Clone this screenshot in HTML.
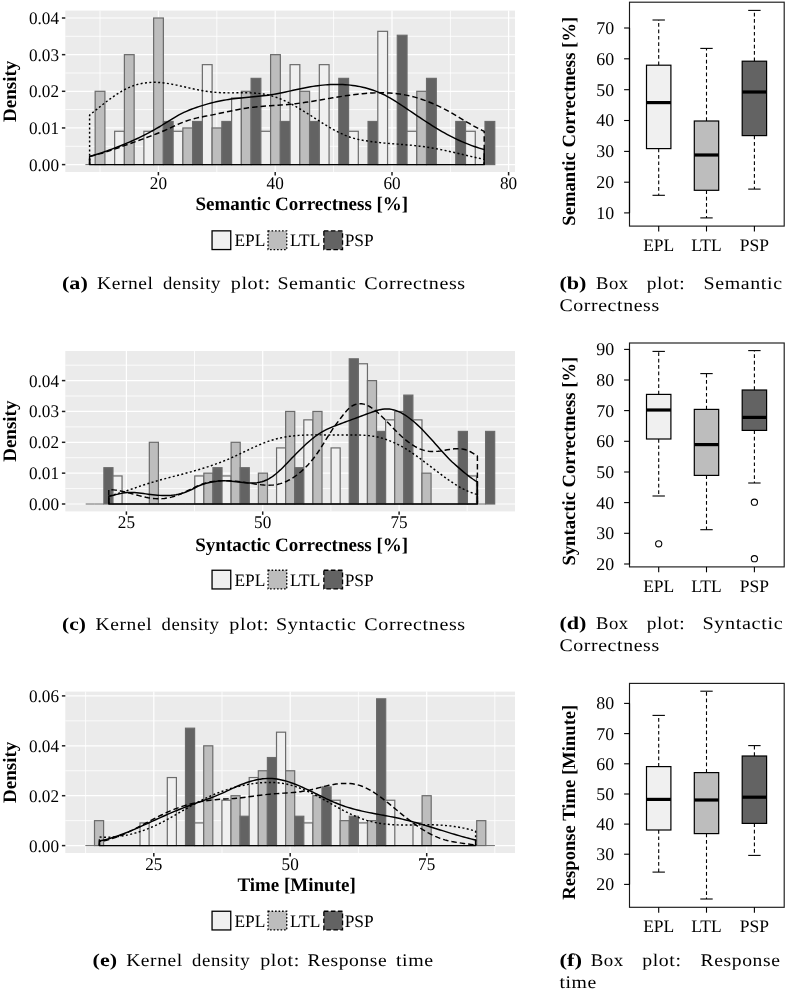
<!DOCTYPE html>
<html><head><meta charset="utf-8"><title>Figure</title>
<style>html,body{margin:0;padding:0;background:#fff}svg{display:block}</style></head>
<body>
<svg width="785" height="993" viewBox="0 0 785 993" text-rendering="geometricPrecision" font-family='"Liberation Serif", "DejaVu Serif", serif' fill="#000">
<rect width="785" height="993" fill="#fff"/>
<rect x="65.3" y="10.6" width="449.70" height="161.40" fill="#EBEBEB"/>
<line x1="65.3" x2="515" y1="146.30" y2="146.30" stroke="#fff" stroke-width="0.8"/>
<line x1="65.3" x2="515" y1="109.60" y2="109.60" stroke="#fff" stroke-width="0.8"/>
<line x1="65.3" x2="515" y1="73.00" y2="73.00" stroke="#fff" stroke-width="0.8"/>
<line x1="65.3" x2="515" y1="36.30" y2="36.30" stroke="#fff" stroke-width="0.8"/>
<line y1="10.6" y2="172" x1="100.00" x2="100.00" stroke="#fff" stroke-width="0.8"/>
<line y1="10.6" y2="172" x1="216.80" x2="216.80" stroke="#fff" stroke-width="0.8"/>
<line y1="10.6" y2="172" x1="333.60" x2="333.60" stroke="#fff" stroke-width="0.8"/>
<line y1="10.6" y2="172" x1="450.40" x2="450.40" stroke="#fff" stroke-width="0.8"/>
<line x1="65.3" x2="515" y1="164.60" y2="164.60" stroke="#fff" stroke-width="1.2"/>
<line x1="65.3" x2="515" y1="127.95" y2="127.95" stroke="#fff" stroke-width="1.2"/>
<line x1="65.3" x2="515" y1="91.30" y2="91.30" stroke="#fff" stroke-width="1.2"/>
<line x1="65.3" x2="515" y1="54.65" y2="54.65" stroke="#fff" stroke-width="1.2"/>
<line x1="65.3" x2="515" y1="18.00" y2="18.00" stroke="#fff" stroke-width="1.2"/>
<line y1="10.6" y2="172" x1="158.40" x2="158.40" stroke="#fff" stroke-width="1.2"/>
<line y1="10.6" y2="172" x1="275.20" x2="275.20" stroke="#fff" stroke-width="1.2"/>
<line y1="10.6" y2="172" x1="392.00" x2="392.00" stroke="#fff" stroke-width="1.2"/>
<line y1="10.6" y2="172" x1="508.60" x2="508.60" stroke="#fff" stroke-width="1.2"/>
<line x1="85.40" x2="95.15" y1="164.60" y2="164.60" stroke="#6B6B6B" stroke-width="1"/>
<rect x="95.15" y="91.30" width="9.75" height="73.30" fill="#BDBDBD" stroke="#6B6B6B" stroke-width="1.2"/>
<line x1="104.89" x2="114.64" y1="164.60" y2="164.60" stroke="#6B6B6B" stroke-width="1"/>
<rect x="114.64" y="131.28" width="9.75" height="33.32" fill="#F0F0F0" stroke="#6B6B6B" stroke-width="1.2"/>
<rect x="124.39" y="54.65" width="9.75" height="109.95" fill="#BDBDBD" stroke="#6B6B6B" stroke-width="1.2"/>
<line x1="134.13" x2="143.88" y1="164.60" y2="164.60" stroke="#6B6B6B" stroke-width="1"/>
<rect x="143.88" y="131.28" width="9.75" height="33.32" fill="#F0F0F0" stroke="#6B6B6B" stroke-width="1.2"/>
<rect x="153.63" y="18.00" width="9.75" height="146.60" fill="#BDBDBD" stroke="#6B6B6B" stroke-width="1.2"/>
<rect x="163.37" y="121.48" width="9.75" height="43.12" fill="#636363" stroke="#6B6B6B" stroke-width="1.2"/>
<rect x="173.12" y="131.28" width="9.75" height="33.32" fill="#F0F0F0" stroke="#6B6B6B" stroke-width="1.2"/>
<rect x="182.87" y="127.95" width="9.75" height="36.65" fill="#BDBDBD" stroke="#6B6B6B" stroke-width="1.2"/>
<rect x="192.61" y="121.48" width="9.75" height="43.12" fill="#636363" stroke="#6B6B6B" stroke-width="1.2"/>
<rect x="202.36" y="64.65" width="9.75" height="99.95" fill="#F0F0F0" stroke="#6B6B6B" stroke-width="1.2"/>
<rect x="212.11" y="127.95" width="9.75" height="36.65" fill="#BDBDBD" stroke="#6B6B6B" stroke-width="1.2"/>
<rect x="221.85" y="121.48" width="9.75" height="43.12" fill="#636363" stroke="#6B6B6B" stroke-width="1.2"/>
<rect x="231.60" y="97.96" width="9.75" height="66.64" fill="#F0F0F0" stroke="#6B6B6B" stroke-width="1.2"/>
<rect x="241.35" y="91.30" width="9.75" height="73.30" fill="#BDBDBD" stroke="#6B6B6B" stroke-width="1.2"/>
<rect x="251.09" y="78.36" width="9.75" height="86.24" fill="#636363" stroke="#6B6B6B" stroke-width="1.2"/>
<rect x="260.84" y="131.28" width="9.75" height="33.32" fill="#F0F0F0" stroke="#6B6B6B" stroke-width="1.2"/>
<rect x="270.59" y="54.65" width="9.75" height="109.95" fill="#BDBDBD" stroke="#6B6B6B" stroke-width="1.2"/>
<rect x="280.33" y="121.48" width="9.75" height="43.12" fill="#636363" stroke="#6B6B6B" stroke-width="1.2"/>
<rect x="290.08" y="64.65" width="9.75" height="99.95" fill="#F0F0F0" stroke="#6B6B6B" stroke-width="1.2"/>
<rect x="299.83" y="91.30" width="9.75" height="73.30" fill="#BDBDBD" stroke="#6B6B6B" stroke-width="1.2"/>
<rect x="309.57" y="121.48" width="9.75" height="43.12" fill="#636363" stroke="#6B6B6B" stroke-width="1.2"/>
<rect x="319.32" y="64.65" width="9.75" height="99.95" fill="#F0F0F0" stroke="#6B6B6B" stroke-width="1.2"/>
<line x1="329.07" x2="338.81" y1="164.60" y2="164.60" stroke="#6B6B6B" stroke-width="1"/>
<rect x="338.81" y="78.36" width="9.75" height="86.24" fill="#636363" stroke="#6B6B6B" stroke-width="1.2"/>
<rect x="348.56" y="131.28" width="9.75" height="33.32" fill="#F0F0F0" stroke="#6B6B6B" stroke-width="1.2"/>
<line x1="358.31" x2="368.05" y1="164.60" y2="164.60" stroke="#6B6B6B" stroke-width="1"/>
<rect x="368.05" y="121.48" width="9.75" height="43.12" fill="#636363" stroke="#6B6B6B" stroke-width="1.2"/>
<rect x="377.80" y="31.33" width="9.75" height="133.27" fill="#F0F0F0" stroke="#6B6B6B" stroke-width="1.2"/>
<line x1="387.55" x2="397.29" y1="164.60" y2="164.60" stroke="#6B6B6B" stroke-width="1"/>
<rect x="397.29" y="35.25" width="9.75" height="129.35" fill="#636363" stroke="#6B6B6B" stroke-width="1.2"/>
<rect x="407.04" y="131.28" width="9.75" height="33.32" fill="#F0F0F0" stroke="#6B6B6B" stroke-width="1.2"/>
<rect x="416.79" y="91.30" width="9.75" height="73.30" fill="#BDBDBD" stroke="#6B6B6B" stroke-width="1.2"/>
<rect x="426.53" y="78.36" width="9.75" height="86.24" fill="#636363" stroke="#6B6B6B" stroke-width="1.2"/>
<line x1="436.28" x2="446.03" y1="164.60" y2="164.60" stroke="#6B6B6B" stroke-width="1"/>
<line x1="446.03" x2="455.77" y1="164.60" y2="164.60" stroke="#6B6B6B" stroke-width="1"/>
<rect x="455.77" y="121.48" width="9.75" height="43.12" fill="#636363" stroke="#6B6B6B" stroke-width="1.2"/>
<rect x="465.52" y="131.28" width="9.75" height="33.32" fill="#F0F0F0" stroke="#6B6B6B" stroke-width="1.2"/>
<line x1="475.27" x2="485.01" y1="164.60" y2="164.60" stroke="#6B6B6B" stroke-width="1"/>
<rect x="485.01" y="121.48" width="9.75" height="43.12" fill="#636363" stroke="#6B6B6B" stroke-width="1.2"/>
<path d="M89.60,164.60 L89.60,156.50 L92.08,155.75 L94.56,154.99 L97.05,154.21 L99.53,153.41 L102.01,152.58 L104.49,151.74 L106.97,150.88 L109.45,149.99 L111.94,149.09 L114.42,148.16 L116.90,147.21 L119.38,146.23 L121.86,145.23 L124.34,144.21 L126.83,143.17 L129.31,142.09 L131.79,141.00 L134.27,139.88 L136.75,138.73 L139.24,137.55 L141.72,136.35 L144.20,135.12 L146.68,133.86 L149.16,132.56 L151.64,131.23 L154.13,129.86 L156.61,128.45 L159.09,127.00 L161.57,125.50 L164.05,123.96 L166.53,122.41 L169.02,120.85 L171.50,119.31 L173.98,117.80 L176.46,116.35 L178.94,114.96 L181.43,113.66 L183.91,112.44 L186.39,111.31 L188.87,110.25 L191.35,109.26 L193.83,108.33 L196.32,107.45 L198.80,106.62 L201.28,105.83 L203.76,105.07 L206.24,104.35 L208.72,103.66 L211.21,103.01 L213.69,102.39 L216.17,101.81 L218.65,101.27 L221.13,100.76 L223.62,100.29 L226.10,99.86 L228.58,99.46 L231.06,99.09 L233.54,98.76 L236.02,98.46 L238.51,98.19 L240.99,97.93 L243.47,97.69 L245.95,97.47 L248.43,97.25 L250.91,97.03 L253.40,96.80 L255.88,96.57 L258.36,96.33 L260.84,96.08 L263.32,95.80 L265.81,95.49 L268.29,95.16 L270.77,94.78 L273.25,94.38 L275.73,93.94 L278.21,93.47 L280.70,92.98 L283.18,92.47 L285.66,91.94 L288.14,91.40 L290.62,90.86 L293.10,90.31 L295.59,89.77 L298.07,89.23 L300.55,88.70 L303.03,88.19 L305.51,87.70 L307.99,87.23 L310.48,86.80 L312.96,86.39 L315.44,86.01 L317.92,85.67 L320.40,85.37 L322.89,85.11 L325.37,84.88 L327.85,84.70 L330.33,84.55 L332.81,84.46 L335.29,84.40 L337.78,84.40 L340.26,84.44 L342.74,84.53 L345.22,84.67 L347.70,84.86 L350.18,85.11 L352.67,85.41 L355.15,85.77 L357.63,86.19 L360.11,86.66 L362.59,87.20 L365.08,87.80 L367.56,88.47 L370.04,89.20 L372.52,90.00 L375.00,90.88 L377.48,91.84 L379.97,92.88 L382.45,94.01 L384.93,95.22 L387.41,96.53 L389.89,97.92 L392.37,99.39 L394.86,100.91 L397.34,102.49 L399.82,104.10 L402.30,105.75 L404.78,107.41 L407.27,109.09 L409.75,110.76 L412.23,112.44 L414.71,114.12 L417.19,115.79 L419.67,117.46 L422.16,119.11 L424.64,120.75 L427.12,122.37 L429.60,123.97 L432.08,125.54 L434.56,127.09 L437.05,128.61 L439.53,130.09 L442.01,131.54 L444.49,132.95 L446.97,134.32 L449.46,135.64 L451.94,136.92 L454.42,138.16 L456.90,139.35 L459.38,140.50 L461.86,141.61 L464.35,142.67 L466.83,143.68 L469.31,144.66 L471.79,145.58 L474.27,146.47 L476.75,147.31 L479.24,148.10 L481.72,148.85 L484.20,149.56 L484.20,164.60 Z" fill="none" stroke="#000" stroke-width="1.45" stroke-linejoin="round"/>
<path d="M89.60,164.60 L89.60,115.14 L92.08,113.13 L94.56,111.11 L97.05,109.09 L99.53,107.09 L102.01,105.11 L104.49,103.16 L106.97,101.26 L109.45,99.40 L111.94,97.59 L114.42,95.86 L116.90,94.19 L119.38,92.62 L121.86,91.13 L124.34,89.75 L126.83,88.48 L129.31,87.33 L131.79,86.31 L134.27,85.42 L136.75,84.65 L139.24,84.00 L141.72,83.46 L144.20,83.03 L146.68,82.71 L149.16,82.49 L151.64,82.36 L154.13,82.32 L156.61,82.36 L159.09,82.49 L161.57,82.69 L164.05,82.96 L166.53,83.29 L169.02,83.68 L171.50,84.12 L173.98,84.59 L176.46,85.10 L178.94,85.64 L181.43,86.19 L183.91,86.76 L186.39,87.33 L188.87,87.90 L191.35,88.46 L193.83,89.00 L196.32,89.52 L198.80,90.01 L201.28,90.48 L203.76,90.91 L206.24,91.30 L208.72,91.65 L211.21,91.95 L213.69,92.20 L216.17,92.40 L218.65,92.56 L221.13,92.68 L223.62,92.77 L226.10,92.83 L228.58,92.86 L231.06,92.86 L233.54,92.85 L236.02,92.82 L238.51,92.80 L240.99,92.78 L243.47,92.77 L245.95,92.78 L248.43,92.81 L250.91,92.88 L253.40,93.00 L255.88,93.16 L258.36,93.38 L260.84,93.67 L263.32,94.02 L265.81,94.46 L268.29,94.99 L270.77,95.61 L273.25,96.33 L275.73,97.14 L278.21,98.04 L280.70,99.03 L283.18,100.09 L285.66,101.22 L288.14,102.43 L290.62,103.69 L293.10,105.01 L295.59,106.38 L298.07,107.80 L300.55,109.25 L303.03,110.75 L305.51,112.27 L307.99,113.82 L310.48,115.39 L312.96,116.97 L315.44,118.56 L317.92,120.15 L320.40,121.72 L322.89,123.28 L325.37,124.82 L327.85,126.33 L330.33,127.79 L332.81,129.21 L335.29,130.58 L337.78,131.88 L340.26,133.11 L342.74,134.27 L345.22,135.34 L347.70,136.32 L350.18,137.20 L352.67,137.97 L355.15,138.65 L357.63,139.25 L360.11,139.78 L362.59,140.25 L365.08,140.68 L367.56,141.07 L370.04,141.43 L372.52,141.77 L375.00,142.08 L377.48,142.36 L379.97,142.63 L382.45,142.87 L384.93,143.10 L387.41,143.32 L389.89,143.53 L392.37,143.73 L394.86,143.93 L397.34,144.12 L399.82,144.31 L402.30,144.51 L404.78,144.71 L407.27,144.92 L409.75,145.14 L412.23,145.37 L414.71,145.62 L417.19,145.88 L419.67,146.17 L422.16,146.47 L424.64,146.81 L427.12,147.17 L429.60,147.56 L432.08,147.97 L434.56,148.41 L437.05,148.87 L439.53,149.35 L442.01,149.84 L444.49,150.36 L446.97,150.88 L449.46,151.43 L451.94,151.98 L454.42,152.54 L456.90,153.11 L459.38,153.69 L461.86,154.27 L464.35,154.85 L466.83,155.43 L469.31,156.02 L471.79,156.60 L474.27,157.17 L476.75,157.74 L479.24,158.31 L481.72,158.86 L484.20,159.40 L484.20,164.60" fill="none" stroke="#000" stroke-width="1.45" stroke-linejoin="round" stroke-dasharray="2 2.4"/>
<path d="M89.60,164.60 L89.60,156.44 L92.08,155.86 L94.56,155.24 L97.05,154.59 L99.53,153.90 L102.01,153.18 L104.49,152.42 L106.97,151.64 L109.45,150.84 L111.94,150.02 L114.42,149.18 L116.90,148.32 L119.38,147.45 L121.86,146.56 L124.34,145.67 L126.83,144.78 L129.31,143.88 L131.79,142.98 L134.27,142.09 L136.75,141.19 L139.24,140.28 L141.72,139.38 L144.20,138.47 L146.68,137.55 L149.16,136.62 L151.64,135.69 L154.13,134.74 L156.61,133.78 L159.09,132.79 L161.57,131.78 L164.05,130.74 L166.53,129.67 L169.02,128.55 L171.50,127.40 L173.98,126.22 L176.46,125.05 L178.94,123.91 L181.43,122.85 L183.91,121.87 L186.39,120.97 L188.87,120.16 L191.35,119.42 L193.83,118.75 L196.32,118.14 L198.80,117.58 L201.28,117.06 L203.76,116.56 L206.24,116.08 L208.72,115.59 L211.21,115.10 L213.69,114.60 L216.17,114.08 L218.65,113.55 L221.13,113.03 L223.62,112.50 L226.10,111.97 L228.58,111.44 L231.06,110.93 L233.54,110.43 L236.02,109.94 L238.51,109.47 L240.99,109.02 L243.47,108.59 L245.95,108.19 L248.43,107.82 L250.91,107.49 L253.40,107.19 L255.88,106.92 L258.36,106.67 L260.84,106.45 L263.32,106.25 L265.81,106.06 L268.29,105.89 L270.77,105.72 L273.25,105.56 L275.73,105.40 L278.21,105.23 L280.70,105.06 L283.18,104.88 L285.66,104.68 L288.14,104.46 L290.62,104.22 L293.10,103.96 L295.59,103.67 L298.07,103.37 L300.55,103.04 L303.03,102.70 L305.51,102.33 L307.99,101.96 L310.48,101.57 L312.96,101.18 L315.44,100.77 L317.92,100.36 L320.40,99.94 L322.89,99.51 L325.37,99.09 L327.85,98.66 L330.33,98.24 L332.81,97.82 L335.29,97.40 L337.78,97.00 L340.26,96.60 L342.74,96.21 L345.22,95.83 L347.70,95.46 L350.18,95.11 L352.67,94.78 L355.15,94.47 L357.63,94.18 L360.11,93.91 L362.59,93.66 L365.08,93.44 L367.56,93.25 L370.04,93.09 L372.52,92.96 L375.00,92.86 L377.48,92.80 L379.97,92.77 L382.45,92.78 L384.93,92.83 L387.41,92.92 L389.89,93.06 L392.37,93.24 L394.86,93.47 L397.34,93.74 L399.82,94.07 L402.30,94.45 L404.78,94.88 L407.27,95.37 L409.75,95.91 L412.23,96.51 L414.71,97.16 L417.19,97.87 L419.67,98.63 L422.16,99.45 L424.64,100.31 L427.12,101.23 L429.60,102.21 L432.08,103.23 L434.56,104.31 L437.05,105.43 L439.53,106.61 L442.01,107.84 L444.49,109.12 L446.97,110.45 L449.46,111.82 L451.94,113.23 L454.42,114.66 L456.90,116.12 L459.38,117.59 L461.86,119.07 L464.35,120.54 L466.83,122.01 L469.31,123.46 L471.79,124.88 L474.27,126.27 L476.75,127.63 L479.24,128.93 L481.72,130.19 L484.20,131.38 L484.20,164.60" fill="none" stroke="#000" stroke-width="1.45" stroke-linejoin="round" stroke-dasharray="5.5 3"/>
<line x1="61.90" x2="65.3" y1="164.60" y2="164.60" stroke="#1f1f1f" stroke-width="1.5"/>
<text transform="translate(59.00,170.60) scale(0.965,1)" font-size="17.8" text-anchor="end" fill="#000">0.00</text>
<line x1="61.90" x2="65.3" y1="127.95" y2="127.95" stroke="#1f1f1f" stroke-width="1.5"/>
<text transform="translate(59.00,133.95) scale(0.965,1)" font-size="17.8" text-anchor="end" fill="#000">0.01</text>
<line x1="61.90" x2="65.3" y1="91.30" y2="91.30" stroke="#1f1f1f" stroke-width="1.5"/>
<text transform="translate(59.00,97.30) scale(0.965,1)" font-size="17.8" text-anchor="end" fill="#000">0.02</text>
<line x1="61.90" x2="65.3" y1="54.65" y2="54.65" stroke="#1f1f1f" stroke-width="1.5"/>
<text transform="translate(59.00,60.65) scale(0.965,1)" font-size="17.8" text-anchor="end" fill="#000">0.03</text>
<line x1="61.90" x2="65.3" y1="18.00" y2="18.00" stroke="#1f1f1f" stroke-width="1.5"/>
<text transform="translate(59.00,24.00) scale(0.965,1)" font-size="17.8" text-anchor="end" fill="#000">0.04</text>
<line y1="172" y2="175.40" x1="158.40" x2="158.40" stroke="#1f1f1f" stroke-width="1.5"/>
<text transform="translate(158.40,188.90) scale(0.965,1)" font-size="17.8" text-anchor="middle" fill="#000">20</text>
<line y1="172" y2="175.40" x1="275.20" x2="275.20" stroke="#1f1f1f" stroke-width="1.5"/>
<text transform="translate(275.20,188.90) scale(0.965,1)" font-size="17.8" text-anchor="middle" fill="#000">40</text>
<line y1="172" y2="175.40" x1="392.00" x2="392.00" stroke="#1f1f1f" stroke-width="1.5"/>
<text transform="translate(392.00,188.90) scale(0.965,1)" font-size="17.8" text-anchor="middle" fill="#000">60</text>
<line y1="172" y2="175.40" x1="508.60" x2="508.60" stroke="#1f1f1f" stroke-width="1.5"/>
<text transform="translate(508.60,188.90) scale(0.965,1)" font-size="17.8" text-anchor="middle" fill="#000">80</text>
<text x="301.8" y="210.0" font-size="19.0" font-weight="bold" text-anchor="middle">Semantic Correctness [%]</text>
<text transform="translate(16.3,91.30) rotate(-90)" font-size="19.0" font-weight="bold" text-anchor="middle">Density</text>
<rect x="212.05" y="230.85" width="18.7" height="18.7" fill="#F0F0F0" stroke="#000" stroke-width="1.3"/>
<text x="234.40" y="246.40" font-size="17.4">EPL</text>
<rect x="268.05" y="230.85" width="18.7" height="18.7" fill="#BDBDBD" stroke="#000" stroke-width="1.3" stroke-dasharray="1.6 1.9"/>
<text x="290.00" y="246.40" font-size="17.4">LTL</text>
<rect x="323.85" y="230.85" width="18.7" height="18.7" fill="#636363" stroke="#000" stroke-width="1.3" stroke-dasharray="4.6 2.4"/>
<text x="344.70" y="246.40" font-size="17.4">PSP</text>
<text x="62" y="288.7" font-size="18" font-weight="bold" textLength="25.8" lengthAdjust="spacingAndGlyphs">(a)</text>
<text x="97" y="288.7" font-size="17.8" letter-spacing="0.55" textLength="56.65" lengthAdjust="spacingAndGlyphs">Kernel</text>
<text x="162.9" y="288.7" font-size="17.8" letter-spacing="0.55" textLength="58.05" lengthAdjust="spacingAndGlyphs">density</text>
<text x="230.7" y="288.7" font-size="17.8" letter-spacing="0.55" textLength="40.05" lengthAdjust="spacingAndGlyphs">plot:</text>
<text x="277.4" y="288.7" font-size="17.8" letter-spacing="0.55" textLength="79.05" lengthAdjust="spacingAndGlyphs">Semantic</text>
<text x="364.3" y="288.7" font-size="17.8" letter-spacing="0.55" textLength="101.45" lengthAdjust="spacingAndGlyphs">Correctness</text>
<rect x="65.3" y="351" width="449.70" height="160.40" fill="#EBEBEB"/>
<line x1="65.3" x2="515" y1="488.60" y2="488.60" stroke="#fff" stroke-width="0.8"/>
<line x1="65.3" x2="515" y1="457.70" y2="457.70" stroke="#fff" stroke-width="0.8"/>
<line x1="65.3" x2="515" y1="426.90" y2="426.90" stroke="#fff" stroke-width="0.8"/>
<line x1="65.3" x2="515" y1="396.00" y2="396.00" stroke="#fff" stroke-width="0.8"/>
<line x1="65.3" x2="515" y1="365.20" y2="365.20" stroke="#fff" stroke-width="0.8"/>
<line y1="351" y2="511.4" x1="194.50" x2="194.50" stroke="#fff" stroke-width="0.8"/>
<line y1="351" y2="511.4" x1="330.90" x2="330.90" stroke="#fff" stroke-width="0.8"/>
<line y1="351" y2="511.4" x1="467.20" x2="467.20" stroke="#fff" stroke-width="0.8"/>
<line x1="65.3" x2="515" y1="504.00" y2="504.00" stroke="#fff" stroke-width="1.2"/>
<line x1="65.3" x2="515" y1="473.15" y2="473.15" stroke="#fff" stroke-width="1.2"/>
<line x1="65.3" x2="515" y1="442.30" y2="442.30" stroke="#fff" stroke-width="1.2"/>
<line x1="65.3" x2="515" y1="411.45" y2="411.45" stroke="#fff" stroke-width="1.2"/>
<line x1="65.3" x2="515" y1="380.60" y2="380.60" stroke="#fff" stroke-width="1.2"/>
<line y1="351" y2="511.4" x1="126.40" x2="126.40" stroke="#fff" stroke-width="1.2"/>
<line y1="351" y2="511.4" x1="262.70" x2="262.70" stroke="#fff" stroke-width="1.2"/>
<line y1="351" y2="511.4" x1="399.10" x2="399.10" stroke="#fff" stroke-width="1.2"/>
<line x1="85.70" x2="94.79" y1="504.00" y2="504.00" stroke="#6B6B6B" stroke-width="1"/>
<line x1="94.79" x2="103.88" y1="504.00" y2="504.00" stroke="#6B6B6B" stroke-width="1"/>
<rect x="103.88" y="467.71" width="9.09" height="36.29" fill="#636363" stroke="#6B6B6B" stroke-width="1.2"/>
<rect x="112.97" y="475.95" width="9.09" height="28.05" fill="#F0F0F0" stroke="#6B6B6B" stroke-width="1.2"/>
<line x1="122.05" x2="131.14" y1="504.00" y2="504.00" stroke="#6B6B6B" stroke-width="1"/>
<line x1="131.14" x2="140.23" y1="504.00" y2="504.00" stroke="#6B6B6B" stroke-width="1"/>
<line x1="140.23" x2="149.32" y1="504.00" y2="504.00" stroke="#6B6B6B" stroke-width="1"/>
<rect x="149.32" y="442.30" width="9.09" height="61.70" fill="#BDBDBD" stroke="#6B6B6B" stroke-width="1.2"/>
<line x1="158.41" x2="167.50" y1="504.00" y2="504.00" stroke="#6B6B6B" stroke-width="1"/>
<line x1="167.50" x2="176.58" y1="504.00" y2="504.00" stroke="#6B6B6B" stroke-width="1"/>
<line x1="176.58" x2="185.67" y1="504.00" y2="504.00" stroke="#6B6B6B" stroke-width="1"/>
<line x1="185.67" x2="194.76" y1="504.00" y2="504.00" stroke="#6B6B6B" stroke-width="1"/>
<rect x="194.76" y="475.95" width="9.09" height="28.05" fill="#F0F0F0" stroke="#6B6B6B" stroke-width="1.2"/>
<rect x="203.85" y="473.15" width="9.09" height="30.85" fill="#BDBDBD" stroke="#6B6B6B" stroke-width="1.2"/>
<rect x="212.94" y="467.71" width="9.09" height="36.29" fill="#636363" stroke="#6B6B6B" stroke-width="1.2"/>
<rect x="222.02" y="475.95" width="9.09" height="28.05" fill="#F0F0F0" stroke="#6B6B6B" stroke-width="1.2"/>
<rect x="231.11" y="442.30" width="9.09" height="61.70" fill="#BDBDBD" stroke="#6B6B6B" stroke-width="1.2"/>
<rect x="240.20" y="467.71" width="9.09" height="36.29" fill="#636363" stroke="#6B6B6B" stroke-width="1.2"/>
<line x1="249.29" x2="258.38" y1="504.00" y2="504.00" stroke="#6B6B6B" stroke-width="1"/>
<rect x="258.38" y="473.15" width="9.09" height="30.85" fill="#BDBDBD" stroke="#6B6B6B" stroke-width="1.2"/>
<line x1="267.47" x2="276.56" y1="504.00" y2="504.00" stroke="#6B6B6B" stroke-width="1"/>
<rect x="276.56" y="447.91" width="9.09" height="56.09" fill="#F0F0F0" stroke="#6B6B6B" stroke-width="1.2"/>
<rect x="285.64" y="411.45" width="9.09" height="92.55" fill="#BDBDBD" stroke="#6B6B6B" stroke-width="1.2"/>
<rect x="294.73" y="467.71" width="9.09" height="36.29" fill="#636363" stroke="#6B6B6B" stroke-width="1.2"/>
<rect x="303.82" y="419.86" width="9.09" height="84.14" fill="#F0F0F0" stroke="#6B6B6B" stroke-width="1.2"/>
<rect x="312.91" y="411.45" width="9.09" height="92.55" fill="#BDBDBD" stroke="#6B6B6B" stroke-width="1.2"/>
<line x1="322.00" x2="331.08" y1="504.00" y2="504.00" stroke="#6B6B6B" stroke-width="1"/>
<rect x="331.08" y="447.91" width="9.09" height="56.09" fill="#F0F0F0" stroke="#6B6B6B" stroke-width="1.2"/>
<line x1="340.17" x2="349.26" y1="504.00" y2="504.00" stroke="#6B6B6B" stroke-width="1"/>
<rect x="349.26" y="358.82" width="9.09" height="145.18" fill="#636363" stroke="#6B6B6B" stroke-width="1.2"/>
<rect x="358.35" y="363.77" width="9.09" height="140.23" fill="#F0F0F0" stroke="#6B6B6B" stroke-width="1.2"/>
<rect x="367.44" y="380.60" width="9.09" height="123.40" fill="#BDBDBD" stroke="#6B6B6B" stroke-width="1.2"/>
<rect x="376.53" y="431.41" width="9.09" height="72.59" fill="#636363" stroke="#6B6B6B" stroke-width="1.2"/>
<rect x="385.62" y="419.86" width="9.09" height="84.14" fill="#F0F0F0" stroke="#6B6B6B" stroke-width="1.2"/>
<rect x="394.70" y="411.45" width="9.09" height="92.55" fill="#BDBDBD" stroke="#6B6B6B" stroke-width="1.2"/>
<rect x="403.79" y="395.12" width="9.09" height="108.88" fill="#636363" stroke="#6B6B6B" stroke-width="1.2"/>
<rect x="412.88" y="419.86" width="9.09" height="84.14" fill="#F0F0F0" stroke="#6B6B6B" stroke-width="1.2"/>
<rect x="421.97" y="473.15" width="9.09" height="30.85" fill="#BDBDBD" stroke="#6B6B6B" stroke-width="1.2"/>
<line x1="431.06" x2="440.14" y1="504.00" y2="504.00" stroke="#6B6B6B" stroke-width="1"/>
<line x1="440.14" x2="449.23" y1="504.00" y2="504.00" stroke="#6B6B6B" stroke-width="1"/>
<line x1="449.23" x2="458.32" y1="504.00" y2="504.00" stroke="#6B6B6B" stroke-width="1"/>
<rect x="458.32" y="431.41" width="9.09" height="72.59" fill="#636363" stroke="#6B6B6B" stroke-width="1.2"/>
<rect x="467.41" y="475.95" width="9.09" height="28.05" fill="#F0F0F0" stroke="#6B6B6B" stroke-width="1.2"/>
<line x1="476.50" x2="485.59" y1="504.00" y2="504.00" stroke="#6B6B6B" stroke-width="1"/>
<rect x="485.59" y="431.41" width="9.09" height="72.59" fill="#636363" stroke="#6B6B6B" stroke-width="1.2"/>
<path d="M108.80,504.00 L108.80,496.20 L111.12,495.75 L113.44,495.23 L115.75,494.67 L118.07,494.12 L120.39,493.59 L122.71,493.13 L125.03,492.77 L127.35,492.54 L129.66,492.43 L131.98,492.44 L134.30,492.55 L136.62,492.73 L138.94,492.97 L141.26,493.26 L143.57,493.57 L145.89,493.88 L148.21,494.19 L150.53,494.49 L152.85,494.76 L155.16,495.00 L157.48,495.20 L159.80,495.36 L162.12,495.47 L164.44,495.52 L166.76,495.51 L169.07,495.43 L171.39,495.27 L173.71,495.03 L176.03,494.69 L178.35,494.26 L180.67,493.72 L182.98,493.07 L185.30,492.30 L187.62,491.41 L189.94,490.39 L192.26,489.24 L194.57,488.02 L196.89,486.82 L199.21,485.71 L201.53,484.77 L203.85,483.99 L206.17,483.35 L208.48,482.80 L210.80,482.31 L213.12,481.85 L215.44,481.46 L217.76,481.15 L220.08,480.93 L222.39,480.82 L224.71,480.81 L227.03,480.88 L229.35,481.02 L231.67,481.23 L233.98,481.47 L236.30,481.73 L238.62,482.01 L240.94,482.29 L243.26,482.54 L245.58,482.76 L247.89,482.92 L250.21,483.01 L252.53,483.00 L254.85,482.89 L257.17,482.65 L259.49,482.26 L261.80,481.71 L264.12,480.97 L266.44,480.04 L268.76,478.88 L271.08,477.49 L273.39,475.87 L275.71,474.04 L278.03,472.05 L280.35,469.90 L282.67,467.65 L284.99,465.31 L287.30,462.91 L289.62,460.49 L291.94,458.07 L294.26,455.67 L296.58,453.30 L298.90,450.96 L301.21,448.68 L303.53,446.45 L305.85,444.29 L308.17,442.20 L310.49,440.21 L312.81,438.31 L315.12,436.52 L317.44,434.85 L319.76,433.31 L322.08,431.91 L324.40,430.62 L326.71,429.45 L329.03,428.37 L331.35,427.37 L333.67,426.42 L335.99,425.52 L338.31,424.64 L340.62,423.78 L342.94,422.91 L345.26,422.04 L347.58,421.18 L349.90,420.31 L352.22,419.44 L354.53,418.57 L356.85,417.71 L359.17,416.85 L361.49,415.98 L363.81,415.13 L366.12,414.27 L368.44,413.42 L370.76,412.58 L373.08,411.75 L375.40,410.97 L377.72,410.26 L380.03,409.67 L382.35,409.22 L384.67,408.94 L386.99,408.87 L389.31,409.01 L391.63,409.37 L393.94,409.93 L396.26,410.68 L398.58,411.61 L400.90,412.72 L403.22,414.00 L405.53,415.43 L407.85,417.01 L410.17,418.72 L412.49,420.57 L414.81,422.54 L417.13,424.62 L419.44,426.81 L421.76,429.09 L424.08,431.45 L426.40,433.89 L428.72,436.40 L431.04,438.96 L433.35,441.57 L435.67,444.20 L437.99,446.84 L440.31,449.46 L442.63,452.05 L444.94,454.58 L447.26,457.04 L449.58,459.40 L451.90,461.66 L454.22,463.81 L456.54,465.88 L458.85,467.90 L461.17,469.88 L463.49,471.82 L465.81,473.72 L468.13,475.56 L470.45,477.33 L472.76,479.00 L475.08,480.56 L477.40,482.01 L477.40,504.00 Z" fill="none" stroke="#000" stroke-width="1.45" stroke-linejoin="round"/>
<path d="M108.80,504.00 L108.80,496.10 L111.12,495.52 L113.44,494.91 L115.75,494.25 L118.07,493.56 L120.39,492.84 L122.71,492.10 L125.03,491.34 L127.35,490.56 L129.66,489.77 L131.98,488.97 L134.30,488.17 L136.62,487.37 L138.94,486.58 L141.26,485.79 L143.57,485.02 L145.89,484.26 L148.21,483.53 L150.53,482.81 L152.85,482.12 L155.16,481.44 L157.48,480.77 L159.80,480.12 L162.12,479.48 L164.44,478.85 L166.76,478.23 L169.07,477.62 L171.39,477.01 L173.71,476.40 L176.03,475.80 L178.35,475.20 L180.67,474.59 L182.98,473.98 L185.30,473.36 L187.62,472.74 L189.94,472.11 L192.26,471.47 L194.57,470.82 L196.89,470.15 L199.21,469.47 L201.53,468.77 L203.85,468.06 L206.17,467.33 L208.48,466.58 L210.80,465.81 L213.12,465.01 L215.44,464.19 L217.76,463.35 L220.08,462.48 L222.39,461.58 L224.71,460.66 L227.03,459.70 L229.35,458.71 L231.67,457.69 L233.98,456.64 L236.30,455.57 L238.62,454.48 L240.94,453.37 L243.26,452.26 L245.58,451.15 L247.89,450.04 L250.21,448.94 L252.53,447.86 L254.85,446.79 L257.17,445.76 L259.49,444.75 L261.80,443.79 L264.12,442.86 L266.44,441.99 L268.76,441.17 L271.08,440.41 L273.39,439.71 L275.71,439.07 L278.03,438.49 L280.35,437.96 L282.67,437.48 L284.99,437.06 L287.30,436.67 L289.62,436.34 L291.94,436.04 L294.26,435.79 L296.58,435.57 L298.90,435.39 L301.21,435.24 L303.53,435.12 L305.85,435.02 L308.17,434.95 L310.49,434.90 L312.81,434.87 L315.12,434.86 L317.44,434.86 L319.76,434.87 L322.08,434.90 L324.40,434.93 L326.71,434.96 L329.03,435.00 L331.35,435.03 L333.67,435.06 L335.99,435.08 L338.31,435.09 L340.62,435.09 L342.94,435.07 L345.26,435.05 L347.58,435.02 L349.90,435.00 L352.22,434.99 L354.53,434.99 L356.85,435.01 L359.17,435.05 L361.49,435.13 L363.81,435.25 L366.12,435.41 L368.44,435.62 L370.76,435.88 L373.08,436.21 L375.40,436.60 L377.72,437.07 L380.03,437.61 L382.35,438.24 L384.67,438.95 L386.99,439.74 L389.31,440.61 L391.63,441.56 L393.94,442.58 L396.26,443.67 L398.58,444.84 L400.90,446.07 L403.22,447.37 L405.53,448.73 L407.85,450.16 L410.17,451.64 L412.49,453.19 L414.81,454.78 L417.13,456.42 L419.44,458.10 L421.76,459.81 L424.08,461.55 L426.40,463.31 L428.72,465.09 L431.04,466.87 L433.35,468.65 L435.67,470.43 L437.99,472.19 L440.31,473.94 L442.63,475.67 L444.94,477.37 L447.26,479.03 L449.58,480.64 L451.90,482.21 L454.22,483.73 L456.54,485.18 L458.85,486.57 L461.17,487.88 L463.49,489.11 L465.81,490.26 L468.13,491.32 L470.45,492.27 L472.76,493.12 L475.08,493.86 L477.40,494.49 L477.40,504.00" fill="none" stroke="#000" stroke-width="1.45" stroke-linejoin="round" stroke-dasharray="2 2.4"/>
<path d="M108.80,504.00 L108.80,489.61 L111.12,489.68 L113.44,489.86 L115.75,490.13 L118.07,490.49 L120.39,490.92 L122.71,491.41 L125.03,491.95 L127.35,492.53 L129.66,493.15 L131.98,493.78 L134.30,494.41 L136.62,495.05 L138.94,495.66 L141.26,496.25 L143.57,496.81 L145.89,497.32 L148.21,497.76 L150.53,498.14 L152.85,498.44 L155.16,498.64 L157.48,498.75 L159.80,498.74 L162.12,498.63 L164.44,498.41 L166.76,498.09 L169.07,497.66 L171.39,497.13 L173.71,496.50 L176.03,495.76 L178.35,494.93 L180.67,493.99 L182.98,492.96 L185.30,491.86 L187.62,490.72 L189.94,489.56 L192.26,488.40 L194.57,487.28 L196.89,486.21 L199.21,485.22 L201.53,484.33 L203.85,483.55 L206.17,482.87 L208.48,482.30 L210.80,481.82 L213.12,481.42 L215.44,481.12 L217.76,480.89 L220.08,480.73 L222.39,480.65 L224.71,480.63 L227.03,480.67 L229.35,480.76 L231.67,480.91 L233.98,481.10 L236.30,481.32 L238.62,481.59 L240.94,481.88 L243.26,482.20 L245.58,482.53 L247.89,482.88 L250.21,483.25 L252.53,483.61 L254.85,483.96 L257.17,484.30 L259.49,484.60 L261.80,484.85 L264.12,485.04 L266.44,485.17 L268.76,485.20 L271.08,485.14 L273.39,484.97 L275.71,484.67 L278.03,484.24 L280.35,483.66 L282.67,482.92 L284.99,482.02 L287.30,480.97 L289.62,479.76 L291.94,478.40 L294.26,476.89 L296.58,475.23 L298.90,473.41 L301.21,471.45 L303.53,469.34 L305.85,467.07 L308.17,464.63 L310.49,462.01 L312.81,459.20 L315.12,456.20 L317.44,452.99 L319.76,449.57 L322.08,445.93 L324.40,442.16 L326.71,438.36 L329.03,434.63 L331.35,431.06 L333.67,427.67 L335.99,424.43 L338.31,421.29 L340.62,418.21 L342.94,415.20 L345.26,412.36 L347.58,409.80 L349.90,407.63 L352.22,405.95 L354.53,404.74 L356.85,403.99 L359.17,403.65 L361.49,403.71 L363.81,404.13 L366.12,404.88 L368.44,405.93 L370.76,407.25 L373.08,408.82 L375.40,410.60 L377.72,412.56 L380.03,414.68 L382.35,416.92 L384.67,419.25 L386.99,421.65 L389.31,424.08 L391.63,426.51 L393.94,428.93 L396.26,431.28 L398.58,433.56 L400.90,435.75 L403.22,437.83 L405.53,439.81 L407.85,441.66 L410.17,443.38 L412.49,444.96 L414.81,446.39 L417.13,447.66 L419.44,448.76 L421.76,449.67 L424.08,450.40 L426.40,450.93 L428.72,451.28 L431.04,451.47 L433.35,451.51 L435.67,451.43 L437.99,451.23 L440.31,450.95 L442.63,450.60 L444.94,450.21 L447.26,449.80 L449.58,449.42 L451.90,449.09 L454.22,448.83 L456.54,448.69 L458.85,448.69 L461.17,448.86 L463.49,449.22 L465.81,449.82 L468.13,450.67 L470.45,451.76 L472.76,453.03 L475.08,454.47 L477.40,456.02 L477.40,504.00" fill="none" stroke="#000" stroke-width="1.45" stroke-linejoin="round" stroke-dasharray="5.5 3"/>
<line x1="61.90" x2="65.3" y1="504.00" y2="504.00" stroke="#1f1f1f" stroke-width="1.5"/>
<text transform="translate(59.00,510.00) scale(0.965,1)" font-size="17.8" text-anchor="end" fill="#000">0.00</text>
<line x1="61.90" x2="65.3" y1="473.15" y2="473.15" stroke="#1f1f1f" stroke-width="1.5"/>
<text transform="translate(59.00,479.15) scale(0.965,1)" font-size="17.8" text-anchor="end" fill="#000">0.01</text>
<line x1="61.90" x2="65.3" y1="442.30" y2="442.30" stroke="#1f1f1f" stroke-width="1.5"/>
<text transform="translate(59.00,448.30) scale(0.965,1)" font-size="17.8" text-anchor="end" fill="#000">0.02</text>
<line x1="61.90" x2="65.3" y1="411.45" y2="411.45" stroke="#1f1f1f" stroke-width="1.5"/>
<text transform="translate(59.00,417.45) scale(0.965,1)" font-size="17.8" text-anchor="end" fill="#000">0.03</text>
<line x1="61.90" x2="65.3" y1="380.60" y2="380.60" stroke="#1f1f1f" stroke-width="1.5"/>
<text transform="translate(59.00,386.60) scale(0.965,1)" font-size="17.8" text-anchor="end" fill="#000">0.04</text>
<line y1="511.4" y2="514.80" x1="126.40" x2="126.40" stroke="#1f1f1f" stroke-width="1.5"/>
<text transform="translate(126.40,528.30) scale(0.965,1)" font-size="17.8" text-anchor="middle" fill="#000">25</text>
<line y1="511.4" y2="514.80" x1="262.70" x2="262.70" stroke="#1f1f1f" stroke-width="1.5"/>
<text transform="translate(262.70,528.30) scale(0.965,1)" font-size="17.8" text-anchor="middle" fill="#000">50</text>
<line y1="511.4" y2="514.80" x1="399.10" x2="399.10" stroke="#1f1f1f" stroke-width="1.5"/>
<text transform="translate(399.10,528.30) scale(0.965,1)" font-size="17.8" text-anchor="middle" fill="#000">75</text>
<text x="301.7" y="550.6" font-size="19.0" font-weight="bold" text-anchor="middle">Syntactic Correctness [%]</text>
<text transform="translate(16.3,431.20) rotate(-90)" font-size="19.0" font-weight="bold" text-anchor="middle">Density</text>
<rect x="212.05" y="570.25" width="18.7" height="18.7" fill="#F0F0F0" stroke="#000" stroke-width="1.3"/>
<text x="234.40" y="585.80" font-size="17.4">EPL</text>
<rect x="268.05" y="570.25" width="18.7" height="18.7" fill="#BDBDBD" stroke="#000" stroke-width="1.3" stroke-dasharray="1.6 1.9"/>
<text x="290.00" y="585.80" font-size="17.4">LTL</text>
<rect x="323.85" y="570.25" width="18.7" height="18.7" fill="#636363" stroke="#000" stroke-width="1.3" stroke-dasharray="4.6 2.4"/>
<text x="344.70" y="585.80" font-size="17.4">PSP</text>
<text x="62" y="629.5" font-size="18" font-weight="bold" textLength="23.8" lengthAdjust="spacingAndGlyphs">(c)</text>
<text x="95.6" y="629.5" font-size="17.8" letter-spacing="0.55" textLength="56.65" lengthAdjust="spacingAndGlyphs">Kernel</text>
<text x="161.5" y="629.5" font-size="17.8" letter-spacing="0.55" textLength="58.05" lengthAdjust="spacingAndGlyphs">density</text>
<text x="229.3" y="629.5" font-size="17.8" letter-spacing="0.55" textLength="40.05" lengthAdjust="spacingAndGlyphs">plot:</text>
<text x="276" y="629.5" font-size="17.8" letter-spacing="0.55" textLength="80.45" lengthAdjust="spacingAndGlyphs">Syntactic</text>
<text x="364.3" y="629.5" font-size="17.8" letter-spacing="0.55" textLength="101.45" lengthAdjust="spacingAndGlyphs">Correctness</text>
<rect x="65.3" y="691.6" width="449.70" height="161.40" fill="#EBEBEB"/>
<line x1="65.3" x2="515" y1="820.65" y2="820.65" stroke="#fff" stroke-width="0.8"/>
<line x1="65.3" x2="515" y1="770.75" y2="770.75" stroke="#fff" stroke-width="0.8"/>
<line x1="65.3" x2="515" y1="720.85" y2="720.85" stroke="#fff" stroke-width="0.8"/>
<line y1="691.6" y2="853" x1="85.60" x2="85.60" stroke="#fff" stroke-width="0.8"/>
<line y1="691.6" y2="853" x1="222.00" x2="222.00" stroke="#fff" stroke-width="0.8"/>
<line y1="691.6" y2="853" x1="358.40" x2="358.40" stroke="#fff" stroke-width="0.8"/>
<line y1="691.6" y2="853" x1="494.80" x2="494.80" stroke="#fff" stroke-width="0.8"/>
<line x1="65.3" x2="515" y1="845.60" y2="845.60" stroke="#fff" stroke-width="1.2"/>
<line x1="65.3" x2="515" y1="795.70" y2="795.70" stroke="#fff" stroke-width="1.2"/>
<line x1="65.3" x2="515" y1="745.80" y2="745.80" stroke="#fff" stroke-width="1.2"/>
<line x1="65.3" x2="515" y1="695.90" y2="695.90" stroke="#fff" stroke-width="1.2"/>
<line y1="691.6" y2="853" x1="153.80" x2="153.80" stroke="#fff" stroke-width="1.2"/>
<line y1="691.6" y2="853" x1="290.20" x2="290.20" stroke="#fff" stroke-width="1.2"/>
<line y1="691.6" y2="853" x1="426.70" x2="426.70" stroke="#fff" stroke-width="1.2"/>
<line x1="85.40" x2="94.50" y1="845.60" y2="845.60" stroke="#6B6B6B" stroke-width="1"/>
<rect x="94.50" y="820.65" width="9.10" height="24.95" fill="#BDBDBD" stroke="#6B6B6B" stroke-width="1.2"/>
<line x1="103.60" x2="112.70" y1="845.60" y2="845.60" stroke="#6B6B6B" stroke-width="1"/>
<line x1="112.70" x2="121.80" y1="845.60" y2="845.60" stroke="#6B6B6B" stroke-width="1"/>
<line x1="121.80" x2="130.90" y1="845.60" y2="845.60" stroke="#6B6B6B" stroke-width="1"/>
<line x1="130.90" x2="140.00" y1="845.60" y2="845.60" stroke="#6B6B6B" stroke-width="1"/>
<rect x="140.00" y="822.92" width="9.10" height="22.68" fill="#F0F0F0" stroke="#6B6B6B" stroke-width="1.2"/>
<line x1="149.10" x2="158.20" y1="845.60" y2="845.60" stroke="#6B6B6B" stroke-width="1"/>
<line x1="158.20" x2="167.30" y1="845.60" y2="845.60" stroke="#6B6B6B" stroke-width="1"/>
<rect x="167.30" y="777.55" width="9.10" height="68.05" fill="#F0F0F0" stroke="#6B6B6B" stroke-width="1.2"/>
<line x1="176.40" x2="185.50" y1="845.60" y2="845.60" stroke="#6B6B6B" stroke-width="1"/>
<rect x="185.50" y="728.19" width="9.10" height="117.41" fill="#636363" stroke="#6B6B6B" stroke-width="1.2"/>
<rect x="194.60" y="822.92" width="9.10" height="22.68" fill="#F0F0F0" stroke="#6B6B6B" stroke-width="1.2"/>
<rect x="203.70" y="745.80" width="9.10" height="99.80" fill="#BDBDBD" stroke="#6B6B6B" stroke-width="1.2"/>
<line x1="212.80" x2="221.90" y1="845.60" y2="845.60" stroke="#6B6B6B" stroke-width="1"/>
<rect x="221.90" y="800.24" width="9.10" height="45.36" fill="#F0F0F0" stroke="#6B6B6B" stroke-width="1.2"/>
<rect x="231.00" y="795.70" width="9.10" height="49.90" fill="#BDBDBD" stroke="#6B6B6B" stroke-width="1.2"/>
<rect x="240.10" y="816.25" width="9.10" height="29.35" fill="#636363" stroke="#6B6B6B" stroke-width="1.2"/>
<rect x="249.20" y="777.55" width="9.10" height="68.05" fill="#F0F0F0" stroke="#6B6B6B" stroke-width="1.2"/>
<rect x="258.30" y="770.75" width="9.10" height="74.85" fill="#BDBDBD" stroke="#6B6B6B" stroke-width="1.2"/>
<rect x="267.40" y="757.54" width="9.10" height="88.06" fill="#636363" stroke="#6B6B6B" stroke-width="1.2"/>
<rect x="276.50" y="732.19" width="9.10" height="113.41" fill="#F0F0F0" stroke="#6B6B6B" stroke-width="1.2"/>
<rect x="285.60" y="770.75" width="9.10" height="74.85" fill="#BDBDBD" stroke="#6B6B6B" stroke-width="1.2"/>
<rect x="294.70" y="816.25" width="9.10" height="29.35" fill="#636363" stroke="#6B6B6B" stroke-width="1.2"/>
<rect x="303.80" y="822.92" width="9.10" height="22.68" fill="#F0F0F0" stroke="#6B6B6B" stroke-width="1.2"/>
<rect x="312.90" y="795.70" width="9.10" height="49.90" fill="#BDBDBD" stroke="#6B6B6B" stroke-width="1.2"/>
<rect x="322.00" y="786.89" width="9.10" height="58.71" fill="#636363" stroke="#6B6B6B" stroke-width="1.2"/>
<rect x="331.10" y="800.24" width="9.10" height="45.36" fill="#F0F0F0" stroke="#6B6B6B" stroke-width="1.2"/>
<rect x="340.20" y="820.65" width="9.10" height="24.95" fill="#BDBDBD" stroke="#6B6B6B" stroke-width="1.2"/>
<rect x="349.30" y="816.25" width="9.10" height="29.35" fill="#636363" stroke="#6B6B6B" stroke-width="1.2"/>
<rect x="358.40" y="822.92" width="9.10" height="22.68" fill="#F0F0F0" stroke="#6B6B6B" stroke-width="1.2"/>
<rect x="367.50" y="820.65" width="9.10" height="24.95" fill="#BDBDBD" stroke="#6B6B6B" stroke-width="1.2"/>
<rect x="376.60" y="698.84" width="9.10" height="146.76" fill="#636363" stroke="#6B6B6B" stroke-width="1.2"/>
<rect x="385.70" y="800.24" width="9.10" height="45.36" fill="#F0F0F0" stroke="#6B6B6B" stroke-width="1.2"/>
<line x1="394.80" x2="403.90" y1="845.60" y2="845.60" stroke="#6B6B6B" stroke-width="1"/>
<line x1="403.90" x2="413.00" y1="845.60" y2="845.60" stroke="#6B6B6B" stroke-width="1"/>
<rect x="413.00" y="822.92" width="9.10" height="22.68" fill="#F0F0F0" stroke="#6B6B6B" stroke-width="1.2"/>
<rect x="422.10" y="795.70" width="9.10" height="49.90" fill="#BDBDBD" stroke="#6B6B6B" stroke-width="1.2"/>
<line x1="431.20" x2="440.30" y1="845.60" y2="845.60" stroke="#6B6B6B" stroke-width="1"/>
<line x1="440.30" x2="449.40" y1="845.60" y2="845.60" stroke="#6B6B6B" stroke-width="1"/>
<line x1="449.40" x2="458.50" y1="845.60" y2="845.60" stroke="#6B6B6B" stroke-width="1"/>
<line x1="458.50" x2="467.60" y1="845.60" y2="845.60" stroke="#6B6B6B" stroke-width="1"/>
<line x1="467.60" x2="476.70" y1="845.60" y2="845.60" stroke="#6B6B6B" stroke-width="1"/>
<rect x="476.70" y="820.65" width="9.10" height="24.95" fill="#BDBDBD" stroke="#6B6B6B" stroke-width="1.2"/>
<line x1="485.80" x2="494.90" y1="845.60" y2="845.60" stroke="#6B6B6B" stroke-width="1"/>
<path d="M99.40,845.60 L99.40,841.06 L101.77,840.54 L104.13,839.98 L106.50,839.37 L108.86,838.71 L111.23,838.00 L113.60,837.26 L115.96,836.47 L118.33,835.65 L120.69,834.80 L123.06,833.91 L125.43,832.99 L127.79,832.05 L130.16,831.08 L132.52,830.09 L134.89,829.08 L137.26,828.05 L139.62,827.01 L141.99,825.95 L144.35,824.88 L146.72,823.81 L149.09,822.73 L151.45,821.65 L153.82,820.57 L156.18,819.48 L158.55,818.41 L160.92,817.34 L163.28,816.28 L165.65,815.23 L168.02,814.19 L170.38,813.17 L172.75,812.17 L175.11,811.19 L177.48,810.23 L179.85,809.28 L182.21,808.35 L184.58,807.44 L186.94,806.53 L189.31,805.64 L191.68,804.77 L194.04,803.90 L196.41,803.04 L198.77,802.18 L201.14,801.34 L203.51,800.50 L205.87,799.66 L208.24,798.81 L210.60,797.95 L212.97,797.06 L215.34,796.14 L217.70,795.19 L220.07,794.19 L222.43,793.14 L224.80,792.05 L227.17,790.94 L229.53,789.81 L231.90,788.69 L234.26,787.59 L236.63,786.52 L239.00,785.49 L241.36,784.52 L243.73,783.62 L246.09,782.78 L248.46,782.00 L250.83,781.29 L253.19,780.65 L255.56,780.07 L257.92,779.57 L260.29,779.16 L262.66,778.84 L265.02,778.61 L267.39,778.48 L269.75,778.46 L272.12,778.55 L274.49,778.75 L276.85,779.05 L279.22,779.45 L281.58,779.94 L283.95,780.51 L286.32,781.16 L288.68,781.89 L291.05,782.69 L293.42,783.54 L295.78,784.46 L298.15,785.42 L300.51,786.43 L302.88,787.48 L305.25,788.56 L307.61,789.66 L309.98,790.79 L312.34,791.94 L314.71,793.09 L317.08,794.25 L319.44,795.41 L321.81,796.56 L324.17,797.70 L326.54,798.82 L328.91,799.92 L331.27,801.00 L333.64,802.04 L336.00,803.04 L338.37,804.00 L340.74,804.90 L343.10,805.76 L345.47,806.57 L347.83,807.33 L350.20,808.04 L352.57,808.72 L354.93,809.36 L357.30,809.97 L359.66,810.54 L362.03,811.09 L364.40,811.62 L366.76,812.12 L369.13,812.60 L371.49,813.07 L373.86,813.52 L376.23,813.96 L378.59,814.40 L380.96,814.84 L383.32,815.27 L385.69,815.71 L388.06,816.16 L390.42,816.61 L392.79,817.07 L395.15,817.55 L397.52,818.05 L399.89,818.57 L402.25,819.12 L404.62,819.68 L406.98,820.27 L409.35,820.88 L411.72,821.51 L414.08,822.15 L416.45,822.81 L418.82,823.49 L421.18,824.17 L423.55,824.87 L425.91,825.58 L428.28,826.29 L430.65,827.02 L433.01,827.74 L435.38,828.48 L437.74,829.21 L440.11,829.94 L442.48,830.68 L444.84,831.41 L447.21,832.13 L449.57,832.85 L451.94,833.57 L454.31,834.28 L456.67,834.97 L459.04,835.66 L461.40,836.33 L463.77,836.99 L466.14,837.63 L468.50,838.25 L470.87,838.86 L473.23,839.44 L475.60,840.01 L475.60,845.60 Z" fill="none" stroke="#000" stroke-width="1.45" stroke-linejoin="round"/>
<path d="M99.40,845.60 L99.40,837.02 L101.77,837.14 L104.13,837.21 L106.50,837.22 L108.86,837.17 L111.23,837.07 L113.60,836.92 L115.96,836.71 L118.33,836.45 L120.69,836.13 L123.06,835.76 L125.43,835.34 L127.79,834.87 L130.16,834.34 L132.52,833.76 L134.89,833.13 L137.26,832.44 L139.62,831.71 L141.99,830.92 L144.35,830.08 L146.72,829.19 L149.09,828.25 L151.45,827.26 L153.82,826.22 L156.18,825.13 L158.55,823.99 L160.92,822.81 L163.28,821.59 L165.65,820.33 L168.02,819.04 L170.38,817.73 L172.75,816.40 L175.11,815.05 L177.48,813.69 L179.85,812.33 L182.21,810.96 L184.58,809.61 L186.94,808.26 L189.31,806.92 L191.68,805.61 L194.04,804.31 L196.41,803.03 L198.77,801.78 L201.14,800.56 L203.51,799.37 L205.87,798.20 L208.24,797.08 L210.60,795.99 L212.97,794.95 L215.34,793.94 L217.70,792.98 L220.07,792.07 L222.43,791.20 L224.80,790.37 L227.17,789.59 L229.53,788.85 L231.90,788.15 L234.26,787.49 L236.63,786.87 L239.00,786.29 L241.36,785.75 L243.73,785.25 L246.09,784.78 L248.46,784.36 L250.83,783.97 L253.19,783.62 L255.56,783.30 L257.92,783.03 L260.29,782.81 L262.66,782.63 L265.02,782.51 L267.39,782.43 L269.75,782.41 L272.12,782.45 L274.49,782.56 L276.85,782.72 L279.22,782.95 L281.58,783.25 L283.95,783.62 L286.32,784.07 L288.68,784.59 L291.05,785.19 L293.42,785.87 L295.78,786.62 L298.15,787.45 L300.51,788.34 L302.88,789.29 L305.25,790.29 L307.61,791.35 L309.98,792.46 L312.34,793.60 L314.71,794.79 L317.08,796.01 L319.44,797.26 L321.81,798.53 L324.17,799.83 L326.54,801.14 L328.91,802.46 L331.27,803.79 L333.64,805.12 L336.00,806.44 L338.37,807.75 L340.74,809.05 L343.10,810.31 L345.47,811.55 L347.83,812.74 L350.20,813.89 L352.57,814.99 L354.93,816.03 L357.30,817.02 L359.66,817.94 L362.03,818.81 L364.40,819.62 L366.76,820.37 L369.13,821.05 L371.49,821.66 L373.86,822.21 L376.23,822.70 L378.59,823.13 L380.96,823.51 L383.32,823.83 L385.69,824.11 L388.06,824.34 L390.42,824.53 L392.79,824.68 L395.15,824.80 L397.52,824.89 L399.89,824.95 L402.25,824.98 L404.62,825.00 L406.98,825.00 L409.35,824.98 L411.72,824.95 L414.08,824.92 L416.45,824.89 L418.82,824.85 L421.18,824.82 L423.55,824.79 L425.91,824.77 L428.28,824.77 L430.65,824.78 L433.01,824.82 L435.38,824.87 L437.74,824.96 L440.11,825.07 L442.48,825.22 L444.84,825.41 L447.21,825.62 L449.57,825.88 L451.94,826.16 L454.31,826.49 L456.67,826.85 L459.04,827.25 L461.40,827.68 L463.77,828.16 L466.14,828.67 L468.50,829.22 L470.87,829.81 L473.23,830.44 L475.60,831.11 L475.60,845.60" fill="none" stroke="#000" stroke-width="1.45" stroke-linejoin="round" stroke-dasharray="2 2.4"/>
<path d="M99.40,845.60 L99.40,841.60 L101.77,841.23 L104.13,840.78 L106.50,840.24 L108.86,839.62 L111.23,838.92 L113.60,838.16 L115.96,837.32 L118.33,836.43 L120.69,835.48 L123.06,834.47 L125.43,833.42 L127.79,832.33 L130.16,831.20 L132.52,830.04 L134.89,828.85 L137.26,827.63 L139.62,826.40 L141.99,825.16 L144.35,823.90 L146.72,822.64 L149.09,821.38 L151.45,820.13 L153.82,818.89 L156.18,817.66 L158.55,816.45 L160.92,815.27 L163.28,814.12 L165.65,813.00 L168.02,811.92 L170.38,810.88 L172.75,809.89 L175.11,808.95 L177.48,808.06 L179.85,807.22 L182.21,806.43 L184.58,805.68 L186.94,804.98 L189.31,804.32 L191.68,803.70 L194.04,803.13 L196.41,802.59 L198.77,802.10 L201.14,801.64 L203.51,801.23 L205.87,800.84 L208.24,800.50 L210.60,800.19 L212.97,799.91 L215.34,799.67 L217.70,799.45 L220.07,799.27 L222.43,799.11 L224.80,798.98 L227.17,798.85 L229.53,798.73 L231.90,798.60 L234.26,798.45 L236.63,798.27 L239.00,798.06 L241.36,797.81 L243.73,797.51 L246.09,797.18 L248.46,796.84 L250.83,796.50 L253.19,796.16 L255.56,795.83 L257.92,795.52 L260.29,795.21 L262.66,794.92 L265.02,794.65 L267.39,794.40 L269.75,794.18 L272.12,793.97 L274.49,793.79 L276.85,793.62 L279.22,793.46 L281.58,793.31 L283.95,793.15 L286.32,792.99 L288.68,792.83 L291.05,792.64 L293.42,792.44 L295.78,792.21 L298.15,791.95 L300.51,791.66 L302.88,791.33 L305.25,790.95 L307.61,790.52 L309.98,790.04 L312.34,789.49 L314.71,788.91 L317.08,788.29 L319.44,787.66 L321.81,787.03 L324.17,786.42 L326.54,785.84 L328.91,785.30 L331.27,784.83 L333.64,784.42 L336.00,784.08 L338.37,783.80 L340.74,783.60 L343.10,783.46 L345.47,783.40 L347.83,783.43 L350.20,783.57 L352.57,783.82 L354.93,784.20 L357.30,784.72 L359.66,785.38 L362.03,786.21 L364.40,787.18 L366.76,788.30 L369.13,789.55 L371.49,790.92 L373.86,792.40 L376.23,793.98 L378.59,795.64 L380.96,797.38 L383.32,799.19 L385.69,801.05 L388.06,802.94 L390.42,804.88 L392.79,806.83 L395.15,808.79 L397.52,810.75 L399.89,812.69 L402.25,814.62 L404.62,816.51 L406.98,818.37 L409.35,820.19 L411.72,821.97 L414.08,823.70 L416.45,825.38 L418.82,827.01 L421.18,828.57 L423.55,830.07 L425.91,831.50 L428.28,832.85 L430.65,834.12 L433.01,835.31 L435.38,836.41 L437.74,837.42 L440.11,838.33 L442.48,839.14 L444.84,839.86 L447.21,840.50 L449.57,841.06 L451.94,841.56 L454.31,842.00 L456.67,842.40 L459.04,842.77 L461.40,843.10 L463.77,843.42 L466.14,843.73 L468.50,844.05 L470.87,844.37 L473.23,844.72 L475.60,845.09 L475.60,845.60" fill="none" stroke="#000" stroke-width="1.45" stroke-linejoin="round" stroke-dasharray="5.5 3"/>
<line x1="61.90" x2="65.3" y1="845.60" y2="845.60" stroke="#1f1f1f" stroke-width="1.5"/>
<text transform="translate(59.00,851.60) scale(0.965,1)" font-size="17.8" text-anchor="end" fill="#000">0.00</text>
<line x1="61.90" x2="65.3" y1="795.70" y2="795.70" stroke="#1f1f1f" stroke-width="1.5"/>
<text transform="translate(59.00,801.70) scale(0.965,1)" font-size="17.8" text-anchor="end" fill="#000">0.02</text>
<line x1="61.90" x2="65.3" y1="745.80" y2="745.80" stroke="#1f1f1f" stroke-width="1.5"/>
<text transform="translate(59.00,751.80) scale(0.965,1)" font-size="17.8" text-anchor="end" fill="#000">0.04</text>
<line x1="61.90" x2="65.3" y1="695.90" y2="695.90" stroke="#1f1f1f" stroke-width="1.5"/>
<text transform="translate(59.00,701.90) scale(0.965,1)" font-size="17.8" text-anchor="end" fill="#000">0.06</text>
<line y1="853" y2="856.40" x1="153.80" x2="153.80" stroke="#1f1f1f" stroke-width="1.5"/>
<text transform="translate(153.80,869.90) scale(0.965,1)" font-size="17.8" text-anchor="middle" fill="#000">25</text>
<line y1="853" y2="856.40" x1="290.20" x2="290.20" stroke="#1f1f1f" stroke-width="1.5"/>
<text transform="translate(290.20,869.90) scale(0.965,1)" font-size="17.8" text-anchor="middle" fill="#000">50</text>
<line y1="853" y2="856.40" x1="426.70" x2="426.70" stroke="#1f1f1f" stroke-width="1.5"/>
<text transform="translate(426.70,869.90) scale(0.965,1)" font-size="17.8" text-anchor="middle" fill="#000">75</text>
<text x="296.6" y="891.2" font-size="19.0" font-weight="bold" text-anchor="middle">Time [Minute]</text>
<text transform="translate(16.3,772.30) rotate(-90)" font-size="19.0" font-weight="bold" text-anchor="middle">Density</text>
<rect x="212.05" y="911.25" width="18.7" height="18.7" fill="#F0F0F0" stroke="#000" stroke-width="1.3"/>
<text x="234.40" y="926.80" font-size="17.4">EPL</text>
<rect x="268.05" y="911.25" width="18.7" height="18.7" fill="#BDBDBD" stroke="#000" stroke-width="1.3" stroke-dasharray="1.6 1.9"/>
<text x="290.00" y="926.80" font-size="17.4">LTL</text>
<rect x="323.85" y="911.25" width="18.7" height="18.7" fill="#636363" stroke="#000" stroke-width="1.3" stroke-dasharray="4.6 2.4"/>
<text x="344.70" y="926.80" font-size="17.4">PSP</text>
<text x="92.6" y="966.2" font-size="18" font-weight="bold" textLength="24.4" lengthAdjust="spacingAndGlyphs">(e)</text>
<text x="126.2" y="966.2" font-size="17.8" letter-spacing="0.55" textLength="56.65" lengthAdjust="spacingAndGlyphs">Kernel</text>
<text x="192.1" y="966.2" font-size="17.8" letter-spacing="0.55" textLength="58.05" lengthAdjust="spacingAndGlyphs">density</text>
<text x="260.2" y="966.2" font-size="17.8" letter-spacing="0.55" textLength="39.75" lengthAdjust="spacingAndGlyphs">plot:</text>
<text x="307.6" y="966.2" font-size="17.8" letter-spacing="0.55" textLength="79.65" lengthAdjust="spacingAndGlyphs">Response</text>
<text x="395.9" y="966.2" font-size="17.8" letter-spacing="0.55" textLength="37.85" lengthAdjust="spacingAndGlyphs">time</text>
<rect x="629.5" y="2.2" width="154.70" height="223.90" fill="#fff" stroke="#1a1a1a" stroke-width="1.15"/>
<line x1="629.5" x2="629.5" y1="28.00" y2="212.90" stroke="#000" stroke-width="1.2"/>
<line x1="624.10" x2="629.5" y1="212.90" y2="212.90" stroke="#000" stroke-width="1.1"/>
<text x="614.10" y="218.80" font-size="17.9" text-anchor="end">10</text>
<line x1="624.10" x2="629.5" y1="182.20" y2="182.20" stroke="#000" stroke-width="1.1"/>
<text x="614.10" y="188.10" font-size="17.9" text-anchor="end">20</text>
<line x1="624.10" x2="629.5" y1="151.40" y2="151.40" stroke="#000" stroke-width="1.1"/>
<text x="614.10" y="157.30" font-size="17.9" text-anchor="end">30</text>
<line x1="624.10" x2="629.5" y1="120.50" y2="120.50" stroke="#000" stroke-width="1.1"/>
<text x="614.10" y="126.40" font-size="17.9" text-anchor="end">40</text>
<line x1="624.10" x2="629.5" y1="89.70" y2="89.70" stroke="#000" stroke-width="1.1"/>
<text x="614.10" y="95.60" font-size="17.9" text-anchor="end">50</text>
<line x1="624.10" x2="629.5" y1="58.80" y2="58.80" stroke="#000" stroke-width="1.1"/>
<text x="614.10" y="64.70" font-size="17.9" text-anchor="end">60</text>
<line x1="624.10" x2="629.5" y1="28.00" y2="28.00" stroke="#000" stroke-width="1.1"/>
<text x="614.10" y="33.90" font-size="17.9" text-anchor="end">70</text>
<line x1="658.7" x2="658.7" y1="226.1" y2="231.50" stroke="#000" stroke-width="1.1"/>
<text x="658.7" y="250.70" font-size="17.5" text-anchor="middle">EPL</text>
<line x1="658.7" x2="658.7" y1="65.20" y2="20.00" stroke="#000" stroke-width="1.1" stroke-dasharray="3.7 2.7"/>
<line x1="658.7" x2="658.7" y1="148.60" y2="195.30" stroke="#000" stroke-width="1.1" stroke-dasharray="3.7 2.7"/>
<line x1="652.5" x2="664.9000000000001" y1="20.00" y2="20.00" stroke="#000" stroke-width="1.1"/>
<line x1="652.5" x2="664.9000000000001" y1="195.30" y2="195.30" stroke="#000" stroke-width="1.1"/>
<rect x="646.50" y="65.20" width="24.40" height="83.40" fill="#F0F0F0" stroke="#000" stroke-width="1.2"/>
<line x1="646.50" x2="670.90" y1="102.60" y2="102.60" stroke="#000" stroke-width="3.2"/>
<line x1="706.5" x2="706.5" y1="226.1" y2="231.50" stroke="#000" stroke-width="1.1"/>
<text x="706.5" y="250.70" font-size="17.5" text-anchor="middle">LTL</text>
<line x1="706.5" x2="706.5" y1="121.00" y2="48.40" stroke="#000" stroke-width="1.1" stroke-dasharray="3.7 2.7"/>
<line x1="706.5" x2="706.5" y1="190.30" y2="217.90" stroke="#000" stroke-width="1.1" stroke-dasharray="3.7 2.7"/>
<line x1="700.3" x2="712.7" y1="48.40" y2="48.40" stroke="#000" stroke-width="1.1"/>
<line x1="700.3" x2="712.7" y1="217.90" y2="217.90" stroke="#000" stroke-width="1.1"/>
<rect x="694.30" y="121.00" width="24.40" height="69.30" fill="#BDBDBD" stroke="#000" stroke-width="1.2"/>
<line x1="694.30" x2="718.70" y1="155.00" y2="155.00" stroke="#000" stroke-width="3.2"/>
<line x1="754.4" x2="754.4" y1="226.1" y2="231.50" stroke="#000" stroke-width="1.1"/>
<text x="754.4" y="250.70" font-size="17.5" text-anchor="middle">PSP</text>
<line x1="754.4" x2="754.4" y1="61.20" y2="10.40" stroke="#000" stroke-width="1.1" stroke-dasharray="3.7 2.7"/>
<line x1="754.4" x2="754.4" y1="135.60" y2="189.10" stroke="#000" stroke-width="1.1" stroke-dasharray="3.7 2.7"/>
<line x1="748.1999999999999" x2="760.6" y1="10.40" y2="10.40" stroke="#000" stroke-width="1.1"/>
<line x1="748.1999999999999" x2="760.6" y1="189.10" y2="189.10" stroke="#000" stroke-width="1.1"/>
<rect x="742.20" y="61.20" width="24.40" height="74.40" fill="#636363" stroke="#000" stroke-width="1.2"/>
<line x1="742.20" x2="766.60" y1="92.00" y2="92.00" stroke="#000" stroke-width="3.2"/>
<text transform="translate(575,121.3) rotate(-90)" font-size="18.65" font-weight="bold" text-anchor="middle">Semantic Correctness [%]</text>
<text x="559.4" y="288.6" font-size="18" font-weight="bold" textLength="27" lengthAdjust="spacingAndGlyphs">(b)</text>
<text x="596" y="288.6" font-size="17.8" letter-spacing="0.55" textLength="32.75" lengthAdjust="spacingAndGlyphs">Box</text>
<text x="646.7" y="288.6" font-size="17.8" letter-spacing="0.55" textLength="38.65" lengthAdjust="spacingAndGlyphs">plot:</text>
<text x="703.5" y="288.6" font-size="17.8" letter-spacing="0.55" textLength="79.15" lengthAdjust="spacingAndGlyphs">Semantic</text>
<text x="559.4" y="310.50" font-size="17.8" letter-spacing="0.55" textLength="100.35" lengthAdjust="spacingAndGlyphs">Correctness</text>
<rect x="629.5" y="343" width="154.70" height="223.90" fill="#fff" stroke="#1a1a1a" stroke-width="1.15"/>
<line x1="629.5" x2="629.5" y1="349.40" y2="564.00" stroke="#000" stroke-width="1.2"/>
<line x1="624.10" x2="629.5" y1="564.00" y2="564.00" stroke="#000" stroke-width="1.1"/>
<text x="614.10" y="569.90" font-size="17.9" text-anchor="end">20</text>
<line x1="624.10" x2="629.5" y1="533.30" y2="533.30" stroke="#000" stroke-width="1.1"/>
<text x="614.10" y="539.20" font-size="17.9" text-anchor="end">30</text>
<line x1="624.10" x2="629.5" y1="502.60" y2="502.60" stroke="#000" stroke-width="1.1"/>
<text x="614.10" y="508.50" font-size="17.9" text-anchor="end">40</text>
<line x1="624.10" x2="629.5" y1="472.00" y2="472.00" stroke="#000" stroke-width="1.1"/>
<text x="614.10" y="477.90" font-size="17.9" text-anchor="end">50</text>
<line x1="624.10" x2="629.5" y1="441.30" y2="441.30" stroke="#000" stroke-width="1.1"/>
<text x="614.10" y="447.20" font-size="17.9" text-anchor="end">60</text>
<line x1="624.10" x2="629.5" y1="410.60" y2="410.60" stroke="#000" stroke-width="1.1"/>
<text x="614.10" y="416.50" font-size="17.9" text-anchor="end">70</text>
<line x1="624.10" x2="629.5" y1="380.00" y2="380.00" stroke="#000" stroke-width="1.1"/>
<text x="614.10" y="385.90" font-size="17.9" text-anchor="end">80</text>
<line x1="624.10" x2="629.5" y1="349.40" y2="349.40" stroke="#000" stroke-width="1.1"/>
<text x="614.10" y="355.30" font-size="17.9" text-anchor="end">90</text>
<line x1="658.7" x2="658.7" y1="566.9" y2="572.30" stroke="#000" stroke-width="1.1"/>
<text x="658.7" y="591.50" font-size="17.5" text-anchor="middle">EPL</text>
<line x1="658.7" x2="658.7" y1="394.40" y2="351.40" stroke="#000" stroke-width="1.1" stroke-dasharray="3.7 2.7"/>
<line x1="658.7" x2="658.7" y1="439.00" y2="496.00" stroke="#000" stroke-width="1.1" stroke-dasharray="3.7 2.7"/>
<line x1="652.5" x2="664.9000000000001" y1="351.40" y2="351.40" stroke="#000" stroke-width="1.1"/>
<line x1="652.5" x2="664.9000000000001" y1="496.00" y2="496.00" stroke="#000" stroke-width="1.1"/>
<rect x="646.50" y="394.40" width="24.40" height="44.60" fill="#F0F0F0" stroke="#000" stroke-width="1.2"/>
<line x1="646.50" x2="670.90" y1="410.00" y2="410.00" stroke="#000" stroke-width="3.2"/>
<circle cx="658.7" cy="543.80" r="3.1" fill="none" stroke="#000" stroke-width="1.1"/>
<line x1="706.5" x2="706.5" y1="566.9" y2="572.30" stroke="#000" stroke-width="1.1"/>
<text x="706.5" y="591.50" font-size="17.5" text-anchor="middle">LTL</text>
<line x1="706.5" x2="706.5" y1="409.40" y2="373.60" stroke="#000" stroke-width="1.1" stroke-dasharray="3.7 2.7"/>
<line x1="706.5" x2="706.5" y1="475.40" y2="529.70" stroke="#000" stroke-width="1.1" stroke-dasharray="3.7 2.7"/>
<line x1="700.3" x2="712.7" y1="373.60" y2="373.60" stroke="#000" stroke-width="1.1"/>
<line x1="700.3" x2="712.7" y1="529.70" y2="529.70" stroke="#000" stroke-width="1.1"/>
<rect x="694.30" y="409.40" width="24.40" height="66.00" fill="#BDBDBD" stroke="#000" stroke-width="1.2"/>
<line x1="694.30" x2="718.70" y1="444.60" y2="444.60" stroke="#000" stroke-width="3.2"/>
<line x1="754.4" x2="754.4" y1="566.9" y2="572.30" stroke="#000" stroke-width="1.1"/>
<text x="754.4" y="591.50" font-size="17.5" text-anchor="middle">PSP</text>
<line x1="754.4" x2="754.4" y1="390.00" y2="350.60" stroke="#000" stroke-width="1.1" stroke-dasharray="3.7 2.7"/>
<line x1="754.4" x2="754.4" y1="430.40" y2="483.00" stroke="#000" stroke-width="1.1" stroke-dasharray="3.7 2.7"/>
<line x1="748.1999999999999" x2="760.6" y1="350.60" y2="350.60" stroke="#000" stroke-width="1.1"/>
<line x1="748.1999999999999" x2="760.6" y1="483.00" y2="483.00" stroke="#000" stroke-width="1.1"/>
<rect x="742.20" y="390.00" width="24.40" height="40.40" fill="#636363" stroke="#000" stroke-width="1.2"/>
<line x1="742.20" x2="766.60" y1="417.40" y2="417.40" stroke="#000" stroke-width="3.2"/>
<circle cx="754.4" cy="502.20" r="3.1" fill="none" stroke="#000" stroke-width="1.1"/>
<circle cx="754.4" cy="558.70" r="3.1" fill="none" stroke="#000" stroke-width="1.1"/>
<text transform="translate(575,461.2) rotate(-90)" font-size="18.65" font-weight="bold" text-anchor="middle">Syntactic Correctness [%]</text>
<text x="559.4" y="629.1" font-size="18" font-weight="bold" textLength="27" lengthAdjust="spacingAndGlyphs">(d)</text>
<text x="596" y="629.1" font-size="17.8" letter-spacing="0.55" textLength="32.75" lengthAdjust="spacingAndGlyphs">Box</text>
<text x="646.7" y="629.1" font-size="17.8" letter-spacing="0.55" textLength="38.65" lengthAdjust="spacingAndGlyphs">plot:</text>
<text x="702.4" y="629.1" font-size="17.8" letter-spacing="0.55" textLength="80.85" lengthAdjust="spacingAndGlyphs">Syntactic</text>
<text x="559.4" y="651.00" font-size="17.8" letter-spacing="0.55" textLength="100.35" lengthAdjust="spacingAndGlyphs">Correctness</text>
<rect x="629.5" y="683.4" width="154.70" height="223.90" fill="#fff" stroke="#1a1a1a" stroke-width="1.15"/>
<line x1="629.5" x2="629.5" y1="703.40" y2="884.40" stroke="#000" stroke-width="1.2"/>
<line x1="624.10" x2="629.5" y1="884.40" y2="884.40" stroke="#000" stroke-width="1.1"/>
<text x="614.10" y="890.30" font-size="17.9" text-anchor="end">20</text>
<line x1="624.10" x2="629.5" y1="854.20" y2="854.20" stroke="#000" stroke-width="1.1"/>
<text x="614.10" y="860.10" font-size="17.9" text-anchor="end">30</text>
<line x1="624.10" x2="629.5" y1="824.10" y2="824.10" stroke="#000" stroke-width="1.1"/>
<text x="614.10" y="830.00" font-size="17.9" text-anchor="end">40</text>
<line x1="624.10" x2="629.5" y1="794.00" y2="794.00" stroke="#000" stroke-width="1.1"/>
<text x="614.10" y="799.90" font-size="17.9" text-anchor="end">50</text>
<line x1="624.10" x2="629.5" y1="763.80" y2="763.80" stroke="#000" stroke-width="1.1"/>
<text x="614.10" y="769.70" font-size="17.9" text-anchor="end">60</text>
<line x1="624.10" x2="629.5" y1="733.60" y2="733.60" stroke="#000" stroke-width="1.1"/>
<text x="614.10" y="739.50" font-size="17.9" text-anchor="end">70</text>
<line x1="624.10" x2="629.5" y1="703.40" y2="703.40" stroke="#000" stroke-width="1.1"/>
<text x="614.10" y="709.30" font-size="17.9" text-anchor="end">80</text>
<line x1="658.7" x2="658.7" y1="907.3" y2="912.70" stroke="#000" stroke-width="1.1"/>
<text x="658.7" y="931.90" font-size="17.5" text-anchor="middle">EPL</text>
<line x1="658.7" x2="658.7" y1="766.60" y2="715.40" stroke="#000" stroke-width="1.1" stroke-dasharray="3.7 2.7"/>
<line x1="658.7" x2="658.7" y1="830.00" y2="872.10" stroke="#000" stroke-width="1.1" stroke-dasharray="3.7 2.7"/>
<line x1="652.5" x2="664.9000000000001" y1="715.40" y2="715.40" stroke="#000" stroke-width="1.1"/>
<line x1="652.5" x2="664.9000000000001" y1="872.10" y2="872.10" stroke="#000" stroke-width="1.1"/>
<rect x="646.50" y="766.60" width="24.40" height="63.40" fill="#F0F0F0" stroke="#000" stroke-width="1.2"/>
<line x1="646.50" x2="670.90" y1="799.40" y2="799.40" stroke="#000" stroke-width="3.2"/>
<line x1="706.5" x2="706.5" y1="907.3" y2="912.70" stroke="#000" stroke-width="1.1"/>
<text x="706.5" y="931.90" font-size="17.5" text-anchor="middle">LTL</text>
<line x1="706.5" x2="706.5" y1="772.60" y2="691.20" stroke="#000" stroke-width="1.1" stroke-dasharray="3.7 2.7"/>
<line x1="706.5" x2="706.5" y1="833.60" y2="899.00" stroke="#000" stroke-width="1.1" stroke-dasharray="3.7 2.7"/>
<line x1="700.3" x2="712.7" y1="691.20" y2="691.20" stroke="#000" stroke-width="1.1"/>
<line x1="700.3" x2="712.7" y1="899.00" y2="899.00" stroke="#000" stroke-width="1.1"/>
<rect x="694.30" y="772.60" width="24.40" height="61.00" fill="#BDBDBD" stroke="#000" stroke-width="1.2"/>
<line x1="694.30" x2="718.70" y1="800.00" y2="800.00" stroke="#000" stroke-width="3.2"/>
<line x1="754.4" x2="754.4" y1="907.3" y2="912.70" stroke="#000" stroke-width="1.1"/>
<text x="754.4" y="931.90" font-size="17.5" text-anchor="middle">PSP</text>
<line x1="754.4" x2="754.4" y1="756.00" y2="745.60" stroke="#000" stroke-width="1.1" stroke-dasharray="3.7 2.7"/>
<line x1="754.4" x2="754.4" y1="823.40" y2="855.40" stroke="#000" stroke-width="1.1" stroke-dasharray="3.7 2.7"/>
<line x1="748.1999999999999" x2="760.6" y1="745.60" y2="745.60" stroke="#000" stroke-width="1.1"/>
<line x1="748.1999999999999" x2="760.6" y1="855.40" y2="855.40" stroke="#000" stroke-width="1.1"/>
<rect x="742.20" y="756.00" width="24.40" height="67.40" fill="#636363" stroke="#000" stroke-width="1.2"/>
<line x1="742.20" x2="766.60" y1="797.20" y2="797.20" stroke="#000" stroke-width="3.2"/>
<text transform="translate(575,802.2) rotate(-90)" font-size="18.65" font-weight="bold" text-anchor="middle">Response Time [Minute]</text>
<text x="559.4" y="965.9" font-size="18" font-weight="bold" textLength="22.6" lengthAdjust="spacingAndGlyphs">(f)</text>
<text x="590.7" y="965.9" font-size="17.8" letter-spacing="0.55" textLength="33.15" lengthAdjust="spacingAndGlyphs">Box</text>
<text x="642.3" y="965.9" font-size="17.8" letter-spacing="0.55" textLength="39.25" lengthAdjust="spacingAndGlyphs">plot:</text>
<text x="700.6" y="965.9" font-size="17.8" letter-spacing="0.55" textLength="79.95" lengthAdjust="spacingAndGlyphs">Response</text>
<text x="559.4" y="987.80" font-size="17.8" letter-spacing="0.55" textLength="37.55" lengthAdjust="spacingAndGlyphs">time</text>
</svg>
</body></html>
